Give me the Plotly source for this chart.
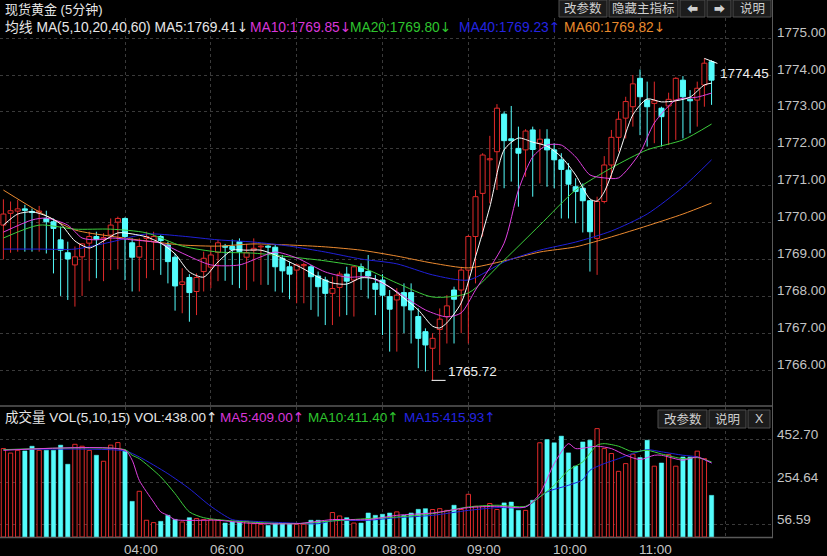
import plotly.graph_objects as go

W, H = 827, 556
FONT = "Liberation Sans, Noto Sans CJK SC, sans-serif"
ARW = '<span style="font-family:DejaVu Sans">{}</span>'

# ---------------- data (5-minute candles, index 0..99) ----------------
opens = [1769.93, 1770.25, 1770.31, 1770.37, 1770.30, 1770.28, 1770.11, 1770.02, 1769.53, 1769.18,
         1768.85, 1769.07, 1769.44, 1769.62, 1769.54, 1769.66, 1770.01, 1770.11, 1769.45, 1769.06,
         1769.57, 1769.48, 1769.62, 1769.39, 1769.06, 1768.32, 1768.51, 1768.13, 1768.67, 1768.79,
         1769.19, 1769.36, 1769.35, 1769.48, 1769.06, 1769.25, 1769.34, 1769.36, 1769.33, 1769.03,
         1768.80, 1768.71, 1768.83, 1768.80, 1768.55, 1768.44, 1768.08, 1768.24, 1768.60, 1768.44,
         1768.80, 1768.67, 1768.35, 1768.44, 1767.99, 1767.90, 1768.10, 1768.10, 1767.45, 1767.04,
         1766.59, 1767.10, 1767.45, 1768.17, 1768.17, 1768.71, 1769.62, 1770.79, 1771.70, 1771.92,
         1772.94, 1772.27, 1772.01, 1771.97, 1772.51, 1772.15, 1772.26, 1771.97, 1771.70, 1771.42,
         1770.97, 1770.93, 1770.59, 1769.57, 1770.57, 1771.56, 1772.31, 1772.83, 1773.14, 1773.91,
         1773.32, 1773.23, 1773.10, 1773.16, 1773.32, 1773.86, 1773.34, 1773.32, 1773.73, 1774.36]
highs = [1770.63, 1770.57, 1770.61, 1770.48, 1770.38, 1770.45, 1770.32, 1770.11, 1769.89, 1769.48,
         1769.35, 1769.44, 1769.75, 1769.75, 1769.71, 1770.11, 1770.16, 1770.14, 1769.57, 1769.57,
         1769.75, 1769.75, 1769.66, 1769.48, 1769.16, 1768.76, 1768.60, 1768.62, 1769.21, 1769.35,
         1769.53, 1769.42, 1769.54, 1769.57, 1769.42, 1769.57, 1769.39, 1769.39, 1769.39, 1769.12,
         1768.94, 1768.89, 1768.91, 1768.85, 1768.67, 1768.53, 1768.53, 1768.67, 1768.80, 1768.82,
         1768.89, 1769.12, 1768.58, 1768.60, 1768.17, 1768.22, 1768.35, 1768.35, 1767.67, 1767.13,
         1767.00, 1767.67, 1768.03, 1768.26, 1768.80, 1769.66, 1770.88, 1771.88, 1772.35, 1773.21,
         1773.01, 1773.16, 1772.60, 1772.53, 1772.60, 1772.53, 1772.53, 1772.15, 1771.88, 1771.61,
         1771.20, 1771.06, 1770.61, 1770.70, 1771.80, 1772.51, 1773.01, 1773.41, 1774.00, 1774.15,
         1773.82, 1773.82, 1773.14, 1773.52, 1773.94, 1773.97, 1773.59, 1773.82, 1774.45, 1774.40]
lows = [1769.00, 1769.18, 1769.21, 1769.21, 1769.21, 1769.21, 1769.16, 1768.62, 1768.01, 1767.90,
        1767.72, 1768.01, 1768.41, 1768.49, 1768.41, 1768.71, 1768.73, 1768.44, 1768.13, 1768.13,
        1768.49, 1768.71, 1768.58, 1768.35, 1767.61, 1767.54, 1767.31, 1767.49, 1768.13, 1768.22,
        1768.41, 1768.42, 1768.31, 1768.22, 1768.17, 1768.40, 1768.31, 1768.31, 1768.13, 1768.10,
        1767.92, 1767.81, 1767.81, 1767.63, 1767.45, 1767.22, 1767.22, 1767.45, 1767.49, 1767.45,
        1768.17, 1767.94, 1767.49, 1766.95, 1766.50, 1766.50, 1767.00, 1766.72, 1766.05, 1765.96,
        1765.72, 1766.14, 1766.72, 1766.72, 1767.00, 1766.72, 1768.35, 1769.62, 1770.52, 1770.88,
        1770.93, 1771.11, 1770.43, 1771.24, 1770.70, 1771.06, 1770.97, 1770.93, 1770.11, 1770.11,
        1769.98, 1769.73, 1768.67, 1768.58, 1770.52, 1771.20, 1771.92, 1772.28, 1772.60, 1772.37,
        1772.06, 1772.15, 1772.06, 1772.10, 1772.24, 1772.28, 1772.42, 1772.60, 1773.14, 1773.19]
closes = [1770.23, 1770.32, 1770.37, 1770.33, 1770.27, 1770.31, 1770.02, 1769.84, 1769.25, 1769.01,
          1769.07, 1769.42, 1769.62, 1769.54, 1769.59, 1769.93, 1770.11, 1769.62, 1769.06, 1769.35,
          1769.62, 1769.62, 1769.51, 1768.94, 1768.28, 1768.39, 1768.10, 1768.51, 1769.03, 1769.12,
          1769.45, 1769.33, 1769.27, 1769.21, 1769.18, 1769.30, 1769.36, 1769.33, 1768.80, 1768.69,
          1768.60, 1768.85, 1768.86, 1768.53, 1768.26, 1768.08, 1768.21, 1768.60, 1768.41, 1768.80,
          1768.67, 1768.55, 1768.19, 1768.03, 1767.65, 1768.03, 1767.74, 1767.63, 1766.86, 1766.68,
          1766.86, 1767.38, 1767.74, 1767.92, 1768.71, 1769.62, 1770.70, 1771.83, 1771.73, 1773.10,
          1772.22, 1772.22, 1771.88, 1772.48, 1771.98, 1772.26, 1771.97, 1771.70, 1771.44, 1771.04,
          1770.84, 1770.59, 1769.75, 1770.57, 1771.56, 1772.31, 1772.80, 1773.28, 1773.76, 1773.41,
          1773.14, 1773.30, 1772.87, 1773.34, 1773.91, 1773.41, 1773.30, 1773.64, 1774.32, 1773.86]
volumes = [412, 391, 404, 401, 423, 404, 404, 404, 428, 339,
           432, 423, 404, 381, 353, 428, 440, 401, 166, 213,
           78, 67, 73, 101, 82, 70, 90, 86, 81, 81,
           78, 65, 70, 70, 73, 62, 59, 54, 62, 62,
           62, 59, 59, 78, 78, 73, 114, 98, 90, 65,
           65, 112, 101, 106, 112, 117, 101, 112, 129, 132,
           128, 132, 124, 148, 128, 199, 143, 143, 156, 128,
           159, 163, 124, 124, 171, 439, 454, 439, 470, 392,
           331, 443, 451, 505, 412, 389, 306, 342, 386, 370,
           451, 330, 345, 384, 330, 373, 373, 400, 365, 194]

# moving averages (candle index, value)
ma5_idx = [0, 2, 4, 6, 8, 10, 12, 14, 16, 18, 20, 22, 24, 26, 28, 30, 32, 34, 36, 38, 40, 42, 44, 46, 48,
           50, 52, 54, 56, 58, 60, 61, 62, 64, 66, 68, 70, 72, 74, 76, 78, 80, 82, 83, 84, 86, 88, 90,
           92, 94, 96, 98, 99]
ma5_val = [1769.93, 1770.23, 1770.29, 1770.18, 1769.96, 1769.50, 1769.31, 1769.50, 1769.72, 1769.69,
           1769.61, 1769.44, 1769.15, 1768.66, 1768.52, 1768.93, 1769.25, 1769.25, 1769.25, 1769.12,
           1768.93, 1768.74, 1768.52, 1768.36, 1768.33, 1768.50, 1768.47, 1768.25, 1767.95, 1767.63,
           1767.19, 1767.14, 1767.28, 1767.82, 1769.07, 1770.42, 1771.97, 1772.29, 1772.18, 1772.07,
           1771.78, 1771.29, 1770.64, 1770.58, 1770.83, 1771.83, 1772.92, 1773.35, 1773.27, 1773.30,
           1773.40, 1773.73, 1773.78]
ma10_idx = [0, 4, 6, 9, 11, 13, 15, 18, 22, 25, 29, 33, 36, 38, 41, 45, 48, 51, 54, 59, 62, 64, 66, 70,
            72, 74, 76, 78, 80, 82, 84, 86, 89, 91, 94, 97, 99]
ma10_val = [1769.74, 1770.07, 1770.12, 1769.93, 1769.58, 1769.53, 1769.58, 1769.53, 1769.44, 1769.17,
            1768.85, 1768.85, 1769.07, 1769.20, 1769.04, 1768.66, 1768.52, 1768.52, 1768.25, 1767.63,
            1767.44, 1767.55, 1768.17, 1769.44, 1770.88, 1771.78, 1772.10, 1772.10, 1771.78, 1771.29,
            1771.21, 1771.21, 1771.89, 1772.70, 1773.32, 1773.40, 1773.51]
ma_long_idx = [0, 5, 10, 15, 20, 25, 30, 35, 40, 45, 50, 55, 60, 65, 70, 75, 80, 85, 90, 95, 99]
ma20_val = [1769.58, 1769.93, 1769.82, 1769.82, 1769.72, 1769.36, 1769.20, 1769.17, 1769.07, 1768.96,
            1768.79, 1768.36, 1767.98, 1768.09, 1768.98, 1769.93, 1770.88, 1771.48, 1771.97, 1772.24,
            1772.67]
ma40_val = [1769.28, 1769.28, 1769.28, 1769.47, 1769.69, 1769.63, 1769.53, 1769.47, 1769.36, 1769.20,
            1769.01, 1768.88, 1768.58, 1768.44, 1768.93, 1769.25, 1769.47, 1769.77, 1770.23, 1770.96,
            1771.70]
ma60_val = [1770.88, 1770.29, 1769.80, 1769.63, 1769.50, 1769.39, 1769.36, 1769.42, 1769.39, 1769.34,
            1769.25, 1769.09, 1768.90, 1768.77, 1768.96, 1769.20, 1769.34, 1769.61, 1769.91, 1770.23,
            1770.53]

vma5_idx = [0, 17, 18, 19, 21, 22, 23, 24, 30, 34, 41, 46, 51, 55, 60, 65, 69, 73, 75, 77, 79, 80, 83,
            85, 87, 89, 91, 92, 95, 97, 99]
vma5_val = [404, 404, 358, 264, 163, 117, 101, 81, 78, 65, 62, 81, 81, 101, 112, 137, 143, 140, 202,
            342, 435, 412, 423, 412, 381, 361, 381, 381, 358, 373, 345]
vma10_idx = [0, 17, 18, 19, 22, 24, 26, 28, 32, 37, 41, 46, 51, 55, 60, 65, 69, 73, 75, 77, 79, 81, 83,
             84, 86, 88, 90, 92, 95, 97, 99]
vma10_val = [407, 407, 381, 365, 280, 202, 117, 90, 75, 65, 62, 75, 86, 93, 109, 140, 148, 143, 187,
             241, 311, 350, 428, 435, 423, 397, 404, 387, 365, 370, 350]
vma15_idx = [0, 17, 19, 23, 26, 29, 32, 34, 39, 44, 46, 51, 55, 60, 65, 69, 73, 76, 79, 81, 82, 84, 86,
             88, 90, 92, 95, 97, 99]
vma15_val = [407, 401, 373, 295, 225, 143, 81, 75, 67, 62, 75, 78, 90, 101, 124, 137, 140, 210, 241,
             267, 311, 342, 365, 389, 407, 397, 381, 373, 345]

time_labels = ["04:00", "06:00", "07:00", "08:00", "09:00", "10:00", "11:00"]
time_idx = [17, 29, 41, 53, 65, 77, 89]
grid_idx = time_idx + [101]
price_ticks = [1766, 1767, 1768, 1769, 1770, 1771, 1772, 1773, 1774, 1775]
vol_ticks = [56.59, 254.64, 452.70]

legend_main = [("均线 MA(5,10,20,40,60) MA5:1769.41", "↓", "#e6e6e6", 3),
               ("MA10:1769.85", "↓", "#d836d8", 248),
               ("MA20:1769.80", "↓", "#2ec42e", 348),
               ("MA40:1769.23", "↑", "#2424e0", 457),
               ("MA60:1769.82", "↓", "#e88a2c", 562)]
legend_vol = [("成交量 VOL(5,10,15) VOL:438.00", "↑", "#e6e6e6", 3),
              ("MA5:409.00", "↑", "#d836d8", 218),
              ("MA10:411.40", "↑", "#2ec42e", 306),
              ("MA15:415.93", "↑", "#2424e0", 402)]

# ---------------- styling ----------------
RED = "#e02a2a"
CYAN = "#54fcfc"
C_MA5, C_MA10, C_MA20, C_MA40, C_MA60 = "#ffffff", "#e040e0", "#3ccc3c", "#2020d8", "#ec8a30"
GRID = "#3a3a3a"
FRAME = "#5a5a5a"
AXTXT = "#c4c4c4"

X0, DX = 3.4, 7.153          # pixel of candle 0, pixels per candle
XR = [-X0 / DX, (772 - X0) / DX]
MAIN_TOP, MAIN_BOT = 18, 405
VOL_TOP, VOL_BOT = 407, 537
PPU = 36.88                  # pixels per price unit
P_AT_75 = 1774.0
main_range = [P_AT_75 - (MAIN_BOT - 75) / PPU, P_AT_75 + (75 - MAIN_TOP) / PPU]
VPU = 4.66                   # volume units per pixel
vol_range = [0, (VOL_BOT - VOL_TOP) * VPU]

n = len(opens)
up = [i for i in range(n) if closes[i] >= opens[i]]
dn = [i for i in range(n) if closes[i] < opens[i]]

fig = go.Figure()

# candle wicks
wx, wy = [], []
for i in up:
    wx += [i, i, None, i, i, None]
    wy += [lows[i], opens[i], None, closes[i], highs[i], None]
fig.add_trace(go.Scatter(x=wx, y=wy, mode="lines", line=dict(color=RED, width=1),
                         hoverinfo="skip", xaxis="x", yaxis="y"))
wx, wy = [], []
for i in dn:
    wx += [i, i, None]
    wy += [lows[i], highs[i], None]
fig.add_trace(go.Scatter(x=wx, y=wy, mode="lines", line=dict(color=CYAN, width=1),
                         hoverinfo="skip", xaxis="x", yaxis="y"))
# candle bodies
fig.add_trace(go.Bar(x=up, y=[closes[i] - opens[i] for i in up], base=[opens[i] for i in up],
                     width=0.7, marker=dict(color="#000000", line=dict(color=RED, width=1)),
                     hoverinfo="skip", xaxis="x", yaxis="y"))
fig.add_trace(go.Bar(x=dn, y=[opens[i] - closes[i] for i in dn], base=[closes[i] for i in dn],
                     width=0.7, marker=dict(color=CYAN, line=dict(color=CYAN, width=1)),
                     hoverinfo="skip", xaxis="x", yaxis="y"))

# moving averages
for xs, ys, col in [(ma_long_idx, ma60_val, C_MA60), (ma_long_idx, ma40_val, C_MA40),
                    (ma_long_idx, ma20_val, C_MA20), (ma10_idx, ma10_val, C_MA10),
                    (ma5_idx, ma5_val, C_MA5)]:
    fig.add_trace(go.Scatter(x=xs, y=ys, mode="lines",
                             line=dict(color=col, width=1, shape="spline", smoothing=0.7),
                             hoverinfo="skip", xaxis="x", yaxis="y"))

# volume bars
fig.add_trace(go.Bar(x=up, y=[volumes[i] for i in up], width=0.6,
                     marker=dict(color="#000000", line=dict(color=RED, width=1)),
                     hoverinfo="skip", xaxis="x2", yaxis="y2"))
fig.add_trace(go.Bar(x=dn, y=[volumes[i] for i in dn], width=0.6,
                     marker=dict(color=CYAN, line=dict(color=CYAN, width=0.5)),
                     hoverinfo="skip", xaxis="x2", yaxis="y2"))
for xs, ys, col in [(vma15_idx, vma15_val, C_MA40), (vma10_idx, vma10_val, C_MA20),
                    (vma5_idx, vma5_val, C_MA10)]:
    fig.add_trace(go.Scatter(x=xs, y=ys, mode="lines",
                             line=dict(color=col, width=1, shape="spline", smoothing=0.7),
                             hoverinfo="skip", xaxis="x2", yaxis="y2"))


def fx(px):
    return px / W


def fy(py):
    return 1 - py / H


annotations = []
shapes = []


def text(t, x, y, color, size=13, xanchor="left"):
    annotations.append(dict(text=t, x=fx(x), y=fy(y), xref="paper", yref="paper",
                            xanchor=xanchor, yanchor="middle", showarrow=False,
                            font=dict(color=color, size=size, family=FONT)))


def button(x0, x1, y0, y1, label, size=12.5):
    shapes.append(dict(type="rect", xref="paper", yref="paper", x0=fx(x0), x1=fx(x1),
                       y0=fy(y1), y1=fy(y0), fillcolor="#1c1c1c",
                       line=dict(color="#4e4e4e", width=1), layer="above"))
    annotations.append(dict(text=label, x=fx((x0 + x1) / 2), y=fy((y0 + y1) / 2),
                            xref="paper", yref="paper", xanchor="center", yanchor="middle",
                            showarrow=False, font=dict(color="#d0d0d0", size=size, family=FONT)))


# title and legends
text("现货黄金 (5分钟)", 3, 9, "#e6e6e6")
for t, a, c, x in legend_main:
    text(t + ARW.format(a), x, 27, c, size=13.8)
for t, a, c, x in legend_vol:
    text(t + ARW.format(a), x, 417, c, size=13.5)

# toolbar buttons
button(559, 607, 0, 17, "改参数")
button(609, 678, 0, 17, "隐藏主指标")
button(680, 705, 0, 17, "⬅", 11)
button(707, 731, 0, 17, "➡", 11)
button(733, 771, 0, 17, "说明")
button(658, 707, 410, 428, "改参数")
button(709, 746, 410, 428, "说明")
button(748, 770, 410, 428, "X")

# right axis labels
for p in price_ticks:
    annotations.append(dict(text=f"{p:.2f}", x=fx(775), y=p, xref="paper", yref="y",
                            xanchor="left", yanchor="middle", yshift=6, showarrow=False,
                            font=dict(color=AXTXT, size=13.5, family=FONT)))
for v in vol_ticks:
    annotations.append(dict(text=f"{v:.2f}", x=fx(775), y=v, xref="paper", yref="y2",
                            xanchor="left", yanchor="middle", yshift=5, showarrow=False,
                            font=dict(color=AXTXT, size=13.5, family=FONT)))
# time labels
for t, i in zip(time_labels, time_idx):
    annotations.append(dict(text=t, x=i, y=fy(549), xref="x2", yref="paper",
                            xanchor="left", yanchor="middle", xshift=-3, showarrow=False,
                            font=dict(color=AXTXT, size=13.5, family=FONT)))

# highest / lowest markers
hi_i = max(range(n), key=lambda k: highs[k])
lo_i = min(range(n), key=lambda k: lows[k])
shapes.append(dict(type="line", xref="x", yref="y", xsizemode="pixel", ysizemode="pixel",
                   xanchor=hi_i, yanchor=highs[hi_i], x0=0, x1=13, y0=0, y1=-5,
                   line=dict(color="#ffffff", width=1)))
annotations.append(dict(text=f"{highs[hi_i]:.2f}", x=hi_i, y=highs[hi_i], xref="x", yref="y",
                        xanchor="left", yanchor="middle", xshift=14, yshift=-15, showarrow=False,
                        font=dict(color="#f0f0f0", size=13.5, family=FONT)))
shapes.append(dict(type="line", xref="x", yref="y", xsizemode="pixel", ysizemode="pixel",
                   xanchor=lo_i, yanchor=lows[lo_i], x0=-1, x1=13, y0=0, y1=0,
                   line=dict(color="#ffffff", width=1)))
annotations.append(dict(text=f"{lows[lo_i]:.2f}", x=lo_i, y=lows[lo_i], xref="x", yref="y",
                        xanchor="left", yanchor="middle", xshift=13, yshift=9, showarrow=False,
                        font=dict(color="#f0f0f0", size=13.5, family=FONT)))

# frame lines
shapes.append(dict(type="line", xref="paper", yref="paper", x0=fx(772.5), x1=fx(772.5),
                   y0=fy(VOL_BOT), y1=1, line=dict(color=FRAME, width=1)))
shapes.append(dict(type="line", xref="paper", yref="paper", x0=0, x1=fx(773),
                   y0=fy(406), y1=fy(406), line=dict(color=FRAME, width=1.5)))
shapes.append(dict(type="line", xref="paper", yref="paper", x0=0, x1=fx(773),
                   y0=fy(VOL_BOT + 0.5), y1=fy(VOL_BOT + 0.5), line=dict(color=FRAME, width=1.5)))

axis_common = dict(showticklabels=False, ticks="", zeroline=False, showline=False,
                   showgrid=True, gridcolor=GRID, griddash="dot", gridwidth=1, fixedrange=True)

fig.update_layout(
    width=W, height=H, margin=dict(l=0, r=0, t=0, b=0, pad=0, autoexpand=False),
    paper_bgcolor="#000000", plot_bgcolor="#000000",
    showlegend=False, barmode="overlay", hovermode=False,
    xaxis=dict(domain=[0, 772 / W], range=XR, anchor="y", tickvals=grid_idx, **axis_common),
    yaxis=dict(domain=[fy(MAIN_BOT), fy(MAIN_TOP)], range=main_range, anchor="x",
               tickvals=price_ticks, **axis_common),
    xaxis2=dict(domain=[0, 772 / W], range=XR, anchor="y2", tickvals=grid_idx, **axis_common),
    yaxis2=dict(domain=[fy(VOL_BOT), fy(VOL_TOP)], range=vol_range, anchor="x2",
                tickvals=vol_ticks, **axis_common),
    annotations=annotations, shapes=shapes,
)

fig.write_html("out.html")
